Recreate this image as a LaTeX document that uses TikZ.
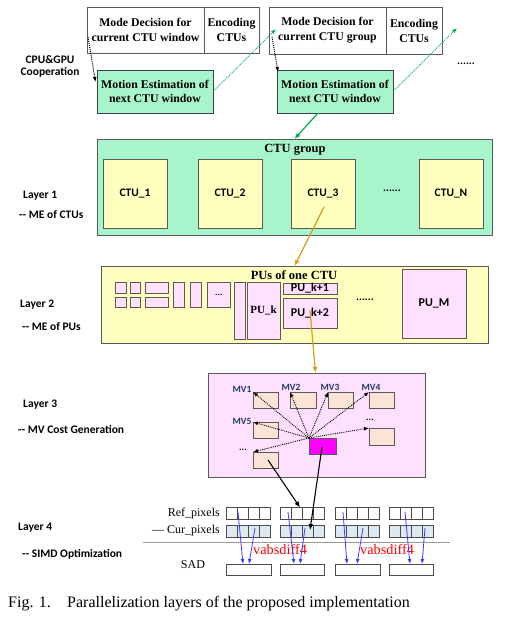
\documentclass[tikz,border=0pt]{standalone}
\usepackage{fontspec}
\setmainfont{Liberation Serif}
\newfontfamily\calfont{Carlito}
\usetikzlibrary{arrows.meta,calc}
\definecolor{mint}{HTML}{A9F5CB}
\definecolor{lyel}{HTML}{FFFFBF}
\definecolor{lpink}{HTML}{FFE1FF}
\definecolor{beige}{HTML}{FBE4D5}
\definecolor{magen}{HTML}{FF00FF}
\definecolor{curblue}{HTML}{DDE8F0}
\definecolor{bordc}{HTML}{595959}
\definecolor{grn}{HTML}{00B050}
\definecolor{orng}{HTML}{D4A017}
\definecolor{bluearr}{HTML}{3A3AFF}
\definecolor{navy}{HTML}{1F3864}
\newcommand\mkbox[7]{\node[#1, anchor=north west, minimum width={((#5)-(#3))*1pt}, minimum height={((#6)-(#4))*1pt}] (#2) at (#3,#4) {#7};}
\tikzset{
  bx/.style={draw=bordc, line width=0.8pt, inner sep=0pt, outer sep=0pt},
  wbox/.style={bx, fill=white, align=center, font=\fontsize{11.8}{15}\selectfont\bfseries},
  mebox/.style={bx, draw=black!75, line width=1pt, fill=mint, align=center, font=\fontsize{11.8}{14}\selectfont\bfseries},
  grbox/.style={bx, fill=mint, line width=1pt},
  ybox/.style={bx, fill=lyel, font=\calfont\fontsize{11.5}{13}\selectfont\bfseries},
  pkbox/.style={bx, fill=lpink, font=\calfont\fontsize{12}{13}\selectfont\bfseries},
  bgbox/.style={bx, fill=beige},
  cell/.style={bx, draw=black!70},
  ttl/.style={inner sep=0pt, font=\fontsize{12.5}{13}\selectfont\bfseries},
  sfl/.style={inner sep=0pt, anchor=base west, font=\calfont\fontsize{11.5}{13}\selectfont\bfseries},
  mvl/.style={inner sep=0pt, text=navy, font=\calfont\fontsize{9.5}{11}\selectfont\bfseries},
  srl/.style={inner sep=0pt, font=\fontsize{12}{13}\selectfont},
  blkdot/.style={densely dotted, line width=1pt, -{Latex[length=5pt,width=4pt]}},
  grndot/.style={densely dotted, draw=grn, line width=0.9pt, -{Latex[length=5pt,width=4pt]}},
  grnarr/.style={draw=grn, line width=1.2pt, -{Latex[length=6pt,width=5pt]}},
  orarr/.style={draw=orng, line width=1.2pt, -{Latex[length=6pt,width=5pt]}},
  mvarr/.style={densely dotted, line width=0.9pt, -{Latex[length=5pt,width=4pt]}},
  bkarr/.style={line width=1.1pt, -{Latex[length=6pt,width=5pt]}},
  blarr/.style={draw=bluearr, line width=0.8pt, -{Latex[length=5pt,width=4pt]}},
}
\begin{document}
\begin{tikzpicture}[x=1pt,y=-1pt]
\useasboundingbox (0,0) rectangle (508,622);
% ---------- top row ----------
\mkbox{wbox}{md1}{87}{7}{204}{53}{Mode Decision for\\current CTU window}
\mkbox{wbox}{en1}{204}{7}{259}{53}{Encoding\\CTUs}
\mkbox{wbox}{md2}{269}{7}{386}{54}{Mode Decision for\\current CTU group}
\mkbox{wbox}{en2}{386}{7}{442}{54}{Encoding\\CTUs}
\mkbox{mebox}{me1}{97}{70}{213}{113}{Motion Estimation of\\next CTU window}
\mkbox{mebox}{me2}{277}{70}{393}{113}{Motion Estimation of\\next CTU window}
\node[inner sep=0pt, align=center, font=\calfont\fontsize{11.5}{12}\selectfont\bfseries] (coop) at (50,66) {CPU\&GPU\\Cooperation};
\node[inner sep=0pt, font=\calfont\fontsize{11}{12}\selectfont\bfseries] (topdots) at (466,64) {......};
\coordinate (d1s) at (88,37);
\coordinate (d1e) at (95.5,82);
\coordinate (d2s) at (272,37);
\coordinate (d2e) at (278,72);
\coordinate (g1e) at (276,29);
\coordinate (g2e) at (457,28);
\draw[blkdot] (d1s) -- (d1e);
\draw[blkdot] (d2s) -- (d2e);
\draw[grndot] (me1.east) -- (g1e);
\draw[grndot] (me2.east) -- (g2e);
% ---------- layer 1 ----------
\mkbox{grbox}{ctug}{97}{139}{492}{235}{}
\node[ttl] (ctut) at (295,150) {CTU group};
\mkbox{ybox}{ctu1}{103}{159}{167}{228}{CTU\_1}
\mkbox{ybox}{ctu2}{198}{159}{262}{228}{CTU\_2}
\mkbox{ybox}{ctu3}{291}{159}{355}{228}{CTU\_3}
\mkbox{ybox}{ctun}{419}{159}{483}{228}{CTU\_N}
\node[inner sep=0pt, font=\calfont\fontsize{11}{12}\selectfont\bfseries] (ctudots) at (392,191) {......};
\coordinate (gs) at (318,113);
\draw[grnarr] (gs) -- (ctug.north);
% ---------- layer 2 ----------
\mkbox{bx, fill=lyel}{pug}{101}{266}{488}{343}{}
\node[ttl] (put) at (294,275) {PUs of one CTU};
\mkbox{pkbox}{s1}{115.7}{282.7}{126.7}{293.3}{}
\mkbox{pkbox}{s2}{130}{282.7}{140}{293.3}{}
\mkbox{pkbox}{s3}{115.7}{297}{126.7}{307}{}
\mkbox{pkbox}{s4}{130}{297}{140}{307}{}
\mkbox{pkbox}{w1}{145.7}{282.7}{168.3}{293.3}{}
\mkbox{pkbox}{w2}{145.7}{297}{168.3}{307}{}
\mkbox{pkbox}{t1}{173}{282.7}{184}{307}{}
\mkbox{pkbox}{t2}{190}{282.7}{201}{307}{}
\mkbox{pkbox, font=\calfont\fontsize{9}{10}\selectfont\bfseries}{pdots}{207.7}{282.7}{230}{307}{...}
\mkbox{pkbox}{t3}{234}{282.7}{245}{339}{}
\mkbox{pkbox, font=\fontsize{11}{12}\selectfont\bfseries}{puk}{247}{282.7}{280}{339}{PU\_k}
\mkbox{pkbox}{puk1}{283}{283}{337}{294}{PU\_k+1}
\mkbox{pkbox}{puk2}{283}{298}{337}{328}{PU\_k+2}
\mkbox{pkbox}{pum}{402}{269}{466}{338}{PU\_M}
\node[inner sep=0pt, font=\calfont\fontsize{11}{12}\selectfont\bfseries] (pudots) at (365,300) {......};
\coordinate (os1) at (324,207);
\draw[orarr] (os1) -- (pug.north);
% ---------- layer 3 ----------
\mkbox{bx, fill=lpink}{mvg}{208}{373}{425}{477}{}
\mkbox{bgbox}{b1}{253}{392}{278}{408}{}
\mkbox{bgbox}{b2}{290}{392}{316}{408}{}
\mkbox{bgbox}{b3}{328}{392}{353}{408}{}
\mkbox{bgbox}{b4}{369}{392}{394}{408}{}
\mkbox{bgbox}{b5}{253}{422}{278}{438}{}
\mkbox{bgbox}{b6}{369}{428}{394}{445}{}
\mkbox{bgbox}{b7}{253}{452}{278}{468}{}
\mkbox{bx, fill=magen}{mg}{309}{438}{336}{454}{}
\node[mvl] (mv1) at (242,389) {MV1};
\node[mvl] (mv2) at (291,387) {MV2};
\node[mvl] (mv3) at (330,387) {MV3};
\node[mvl] (mv4) at (371,387) {MV4};
\node[mvl] (mv5) at (242,421) {MV5};
\node[mvl, text=black] (mvd1) at (370,420) {...};
\node[mvl, text=black] (mvd2) at (243,450) {...};
\foreach \b in {b1,b2,b3,b4,b5,b6,b7} \draw[mvarr] (mg.north west) -- (\b.north west);
\coordinate (os2) at (310,310);
\draw[orarr] (os2) -- ($(mvg.north)+(-1,0)$);
% ---------- layer 4 ----------
\foreach \g/\gx in {1/226.7, 2/280, 3/335.7, 4/389.3} {
  \foreach \c in {0,...,3} {
    \mkbox{cell, fill=white}{r\g\c}{\gx+11*\c}{507}{\gx+11*\c+11}{519}{}
    \mkbox{cell, fill=curblue}{c\g\c}{\gx+11*\c}{525}{\gx+11*\c+11}{537}{}
  }
  \mkbox{cell, fill=white}{sad\g}{\gx}{564}{\gx+44.5}{575}{}
}
\draw[draw=black!40, line width=1.2pt] (143,542.7) -- (450,542.7);
\node[srl, anchor=base east] (refl) at (220,516.7) {Ref\_pixels};
\node[srl, anchor=base east] (curl) at (220,533) {— Cur\_pixels};
\node[srl, anchor=base] (sadl) at (193,568) {SAD};
\node[inner sep=0pt, anchor=base west, text=red, font=\fontsize{14.3}{15}\selectfont] (vab1) at (253,554) {vabsdiff4};
\node[inner sep=0pt, anchor=base west, text=red, font=\fontsize{14.3}{15}\selectfont] (vab2) at (360,554) {vabsdiff4};
% blue arrows
\foreach \xa/\xb/\xc/\xd in {238/243/255/249, 288/294/305/300, 343/347/363/357, 405/410/425/422} {
  \draw[blarr] (\xa,512) -- (\xb,564);
  \draw[blarr] (\xc,528) -- (\xd,564);
}
% black arrows
\coordinate (k1s) at (268,460);
\coordinate (k1e) at (300,507.5);
\coordinate (k2s) at (322,447);
\coordinate (k2e) at (310,530);
\draw[bkarr] (k1s) -- (k1e);
\draw[bkarr] (k2s) -- (k2e);
% ---------- layer labels ----------
\node[sfl] (l1) at (23,198) {Layer 1};
\node[sfl] (l1b) at (19,218) {-{}- ME of CTUs};
\node[sfl] (l2) at (20,307) {Layer 2};
\node[sfl] (l2b) at (22,330) {-{}- ME of PUs};
\node[sfl] (l3) at (23,407) {Layer 3};
\node[sfl] (l3b) at (18,433) {-{}- MV Cost Generation};
\node[sfl] (l4) at (18,530) {Layer 4};
\node[sfl] (l4b) at (22,557) {-{}- SIMD Optimization};
% ---------- caption ----------
\node[inner sep=0pt, anchor=base west, font=\fontsize{16}{17}\selectfont] (figl) at (8,607.3) {Fig. 1.};
\node[inner sep=0pt, anchor=base west, font=\fontsize{16}{17}\selectfont] (capt) at (67,607.3) {Parallelization layers of the proposed implementation};
\end{tikzpicture}
\end{document}
